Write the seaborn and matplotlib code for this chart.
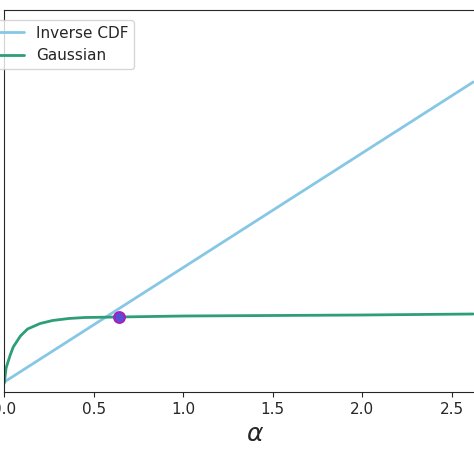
import matplotlib
matplotlib.use("Agg")
import matplotlib.pyplot as plt
import seaborn as sns
import pandas as pd

inv_x = [0.0, 2.62]
inv_y = [10, 310]
gauss_x = [0.0, 0.01, 0.033, 0.05, 0.09, 0.13, 0.2, 0.27, 0.36, 0.45, 0.64, 1.0, 1.5, 2.0, 2.62]
gauss_y = [9, 24, 37, 45, 56, 63, 68.5, 71.5, 73.5, 74.5, 75, 76, 76.5, 77, 78]
cross_x = [0.64]
cross_y = [75]

sns.set_style("ticks")
fig = plt.figure(figsize=(4.74, 4.74), dpi=100)
ax = fig.add_axes([4.3 / 474, 82 / 474, 2.8 * 179 / 474, 382 / 474])

sns.lineplot(x=inv_x, y=inv_y, ax=ax, color="#87c7e6", lw=2, label="Inverse CDF")
sns.lineplot(x=gauss_x, y=gauss_y, ax=ax, color="#2e9e78", lw=2, label="Gaussian")
ax.scatter(cross_x, cross_y, s=60, facecolor="#5a4fd0", edgecolor="#a020c0", lw=1.5, zorder=5)

ax.set_xlim(0, 2.8)
ax.set_ylim(0, 382)
ax.set_xticks([0.0, 0.5, 1.0, 1.5, 2.0, 2.5])
ax.set_xticklabels(["0.0", "0.5", "1.0", "1.5", "2.0", "2.5"], fontsize=11)
ax.set_yticks([])
ax.set_xlabel(r"$\alpha$", fontsize=18)
ax.legend(loc="upper left", bbox_to_anchor=(-0.05, 0.995), fontsize=11, frameon=True, handlelength=2)
fig.savefig("out.png", dpi=100)
